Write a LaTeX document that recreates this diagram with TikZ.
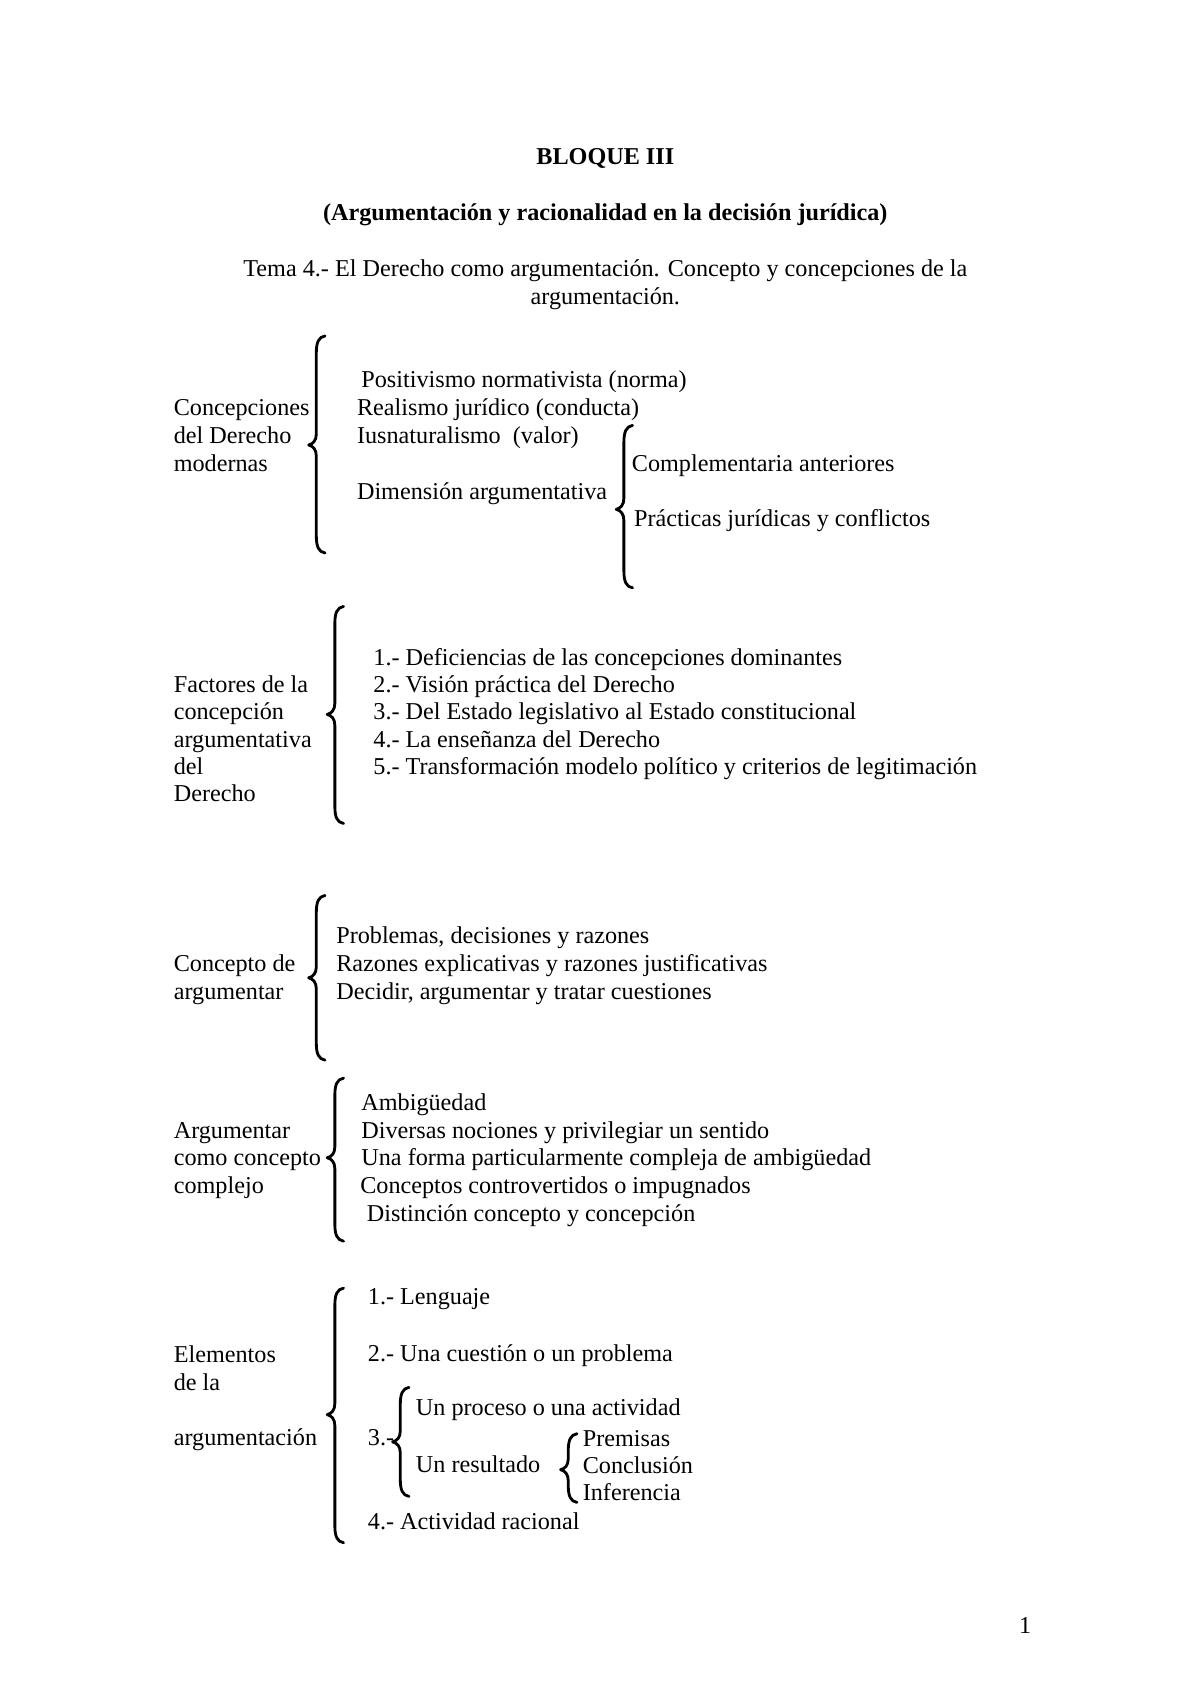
\documentclass[tikz,border=0pt]{standalone}
\usepackage{fontspec}
\setmainfont{Liberation Serif}
\tikzset{
  x=0.5411pt, y=-0.5411pt,
  txt/.style={anchor=base west, inner sep=0pt, font=\fontsize{12}{14}\selectfont},
  ctxt/.style={anchor=base, inner sep=0pt, font=\fontsize{12}{14}\selectfont},
  btxt/.style={anchor=base, inner sep=0pt, font=\fontsize{12}{14}\selectfont\bfseries},
  bracestyle/.style={line width=1.4pt, line cap=round, line join=round}
}
\newcommand{\cbrace}[4]{%
  \draw[bracestyle] ({#1+8},{#2}) .. controls ({#1+2},{#2+1}) and ({#1},{#2+6}) .. ({#1},{#2+16})
    -- ({#1},{#3-10}) .. controls ({#1},{#3-4}) and ({#1-3},{#3-1}) .. ({#1-7},{#3})
    .. controls ({#1-3},{#3+1}) and ({#1},{#3+4}) .. ({#1},{#3+10})
    -- ({#1},{#4-16}) .. controls ({#1},{#4-6}) and ({#1+2},{#4-1}) .. ({#1+8},{#4});%
}
\begin{document}
\begin{tikzpicture}
\useasboundingbox[fill=white] (0,0) rectangle (1100,1555);
% Title
\node[btxt] (t1) at (555,151) {BLOQUE III};
\node[btxt] (t2) at (555,202) {(Argumentación y racionalidad en la decisión jurídica)};
\node[ctxt] (t3) at (555,253.5) {Tema 4.- El Derecho como argumentación. Concepto y concepciones de la};
\node[ctxt] (t4) at (555,279) {argumentación.};

% Section 1
\node[txt] (a1) at (159,381) {Concepciones};
\node[txt] (a2) at (159,406.5) {del Derecho};
\node[txt] (a3) at (159,432) {modernas};
\cbrace{290}{308}{408}{507}
\node[txt] (a4) at (331,355.5) {Positivismo normativista (norma)};
\node[txt] (a5) at (327,381) {Realismo jurídico (conducta)};
\node[txt] (a6) at (327,406.5) {Iusnaturalismo\ \ (valor)};
\node[txt] (a7) at (327,458) {Dimensión argumentativa};
\cbrace{572}{390}{467}{539}
\node[txt] (a8) at (579,432) {Complementaria anteriores};
\node[txt] (a9) at (581,483) {Prácticas jurídicas y conflictos};

% Section 2
\node[txt] (b1) at (159,635) {Factores de la};
\node[txt] (b2) at (159,660) {concepción};
\node[txt] (b3) at (159,685) {argumentativa};
\node[txt] (b4) at (159,710) {del};
\node[txt] (b5) at (159,735) {Derecho};
\cbrace{307}{556}{655}{755}
\node[txt] (b6) at (342,610) {1.- Deficiencias de las concepciones dominantes};
\node[txt] (b7) at (342,635) {2.- Visión práctica del Derecho};
\node[txt] (b8) at (342,660) {3.- Del Estado legislativo al Estado constitucional};
\node[txt] (b9) at (342,685) {4.- La enseñanza del Derecho};
\node[txt] (b10) at (342,710) {5.- Transformación modelo político y criterios de legitimación};

% Section 3
\node[txt] (c1) at (159,891) {Concepto de};
\node[txt] (c2) at (159,916.5) {argumentar};
\cbrace{290}{821}{896.5}{972}
\node[txt] (c3) at (308,865.5) {Problemas, decisiones y razones};
\node[txt] (c4) at (308,891) {Razones explicativas y razones justificativas};
\node[txt] (c5) at (308,916.5) {Decidir, argumentar y tratar cuestiones};

% Section 4
\node[txt] (d1) at (159,1043.5) {Argumentar};
\node[txt] (d2) at (159,1069) {como concepto};
\node[txt] (d3) at (159,1094.5) {complejo};
\cbrace{307}{988.5}{1061.5}{1138}
\node[txt] (d4) at (331,1018) {Ambigüedad};
\node[txt] (d5) at (331,1043.5) {Diversas nociones y privilegiar un sentido};
\node[txt] (d6) at (331,1069) {Una forma particularmente compleja de ambigüedad};
\node[txt] (d7) at (330,1094.5) {Conceptos controvertidos o impugnados};
\node[txt] (d8) at (336,1120) {Distinción concepto y concepción};

% Section 5
\node[txt] (e1) at (159,1249) {Elementos};
\node[txt] (e2) at (159,1274.5) {de la};
\node[txt] (e3) at (159,1325.5) {argumentación};
\cbrace{307}{1181}{1297}{1414.5}
\node[txt] (e4) at (337,1196) {1.- Lenguaje};
\node[txt] (e5) at (337,1248) {2.- Una cuestión o un problema};
\node[txt] (e6) at (337,1325) {3.-};
\cbrace{367}{1272}{1322}{1372}
\node[txt] (e7) at (381,1298) {Un proceso o una actividad};
\node[txt] (e8) at (381,1350.5) {Un resultado};
\cbrace{521}{1314.5}{1347.5}{1377.5}
\node[txt] (e9) at (534,1326) {Premisas};
\node[txt] (e10) at (534,1351) {Conclusión};
\node[txt] (e11) at (534,1376) {Inferencia};
\node[txt] (e12) at (337,1402) {4.- Actividad racional};

% Page number
\node[txt] (pg) at (934,1498) {1};
\end{tikzpicture}
\end{document}
